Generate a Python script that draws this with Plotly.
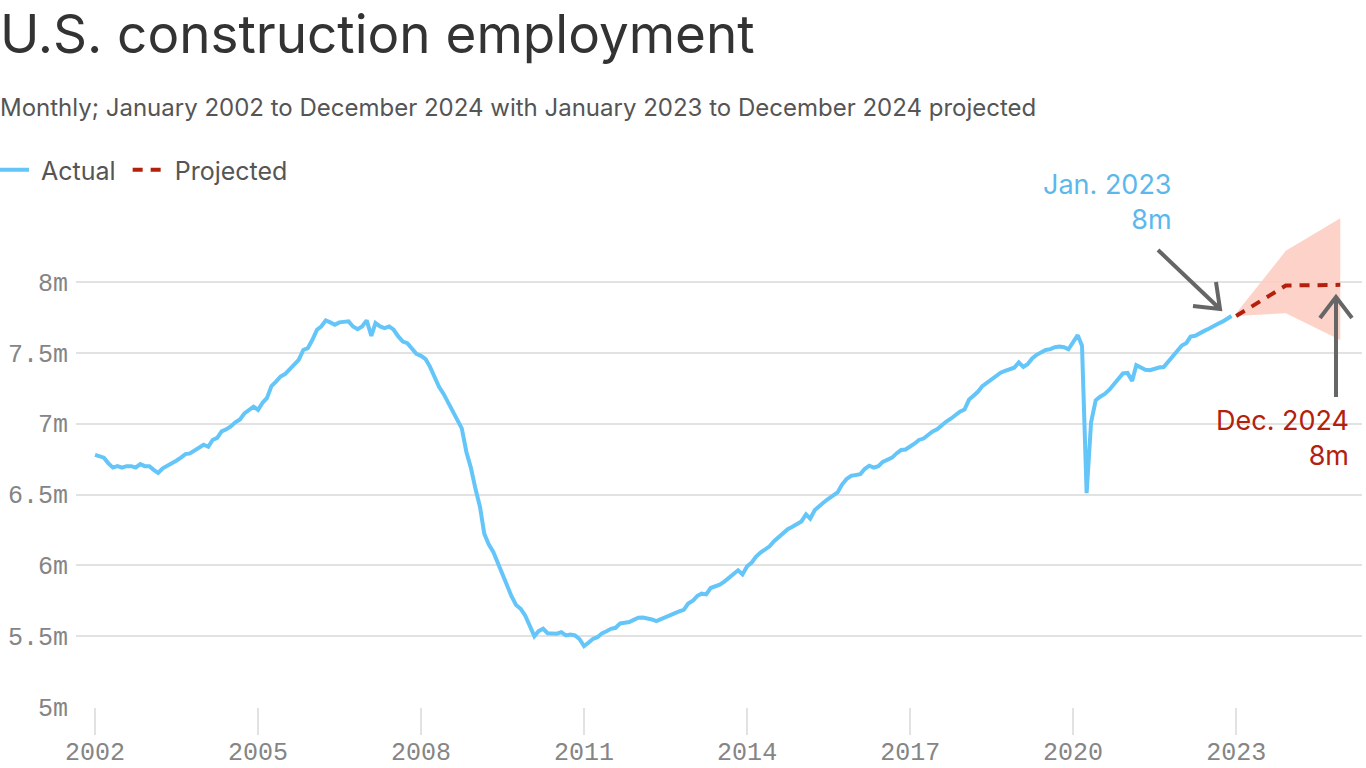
import pandas as pd
import plotly.graph_objects as go

# ---------------- data ----------------
actual_start = "2002-01-01"
actual_values = [
    # 2002
    6.78, 6.77, 6.76, 6.72, 6.69, 6.70, 6.69, 6.70, 6.70, 6.69, 6.715, 6.70,
    # 2003
    6.70, 6.672, 6.653, 6.685, 6.70, 6.72, 6.738, 6.76, 6.785, 6.79, 6.81, 6.83,
    # 2004
    6.851, 6.837, 6.885, 6.90, 6.945, 6.96, 6.98, 7.01, 7.03, 7.073, 7.095, 7.12,
    # 2005
    7.097, 7.149, 7.18, 7.265, 7.297, 7.333, 7.35, 7.387, 7.415, 7.45, 7.52, 7.533,
    # 2006
    7.592, 7.663, 7.686, 7.729, 7.715, 7.698, 7.715, 7.722, 7.722, 7.686, 7.667, 7.686,
    # 2007
    7.729, 7.62, 7.71, 7.686, 7.675, 7.686, 7.663, 7.616, 7.58, 7.568, 7.526, 7.493,
    # 2008
    7.479, 7.455, 7.403, 7.321, 7.26, 7.21, 7.15, 7.10, 7.04, 6.967, 6.80, 6.69,
    # 2009
    6.54, 6.41, 6.224, 6.146, 6.094, 6.01, 5.93, 5.85, 5.78, 5.72, 5.693, 5.646,
    # 2010
    5.568, 5.50, 5.535, 5.552, 5.521, 5.52, 5.517, 5.528, 5.505, 5.512, 5.505, 5.48,
    # 2011
    5.43, 5.455, 5.48, 5.493, 5.52, 5.535, 5.552, 5.559, 5.59, 5.595, 5.60, 5.615,
    # 2012
    5.63, 5.632, 5.628, 5.618, 5.606, 5.62, 5.639, 5.65, 5.663, 5.675, 5.686, 5.73,
    # 2013
    5.75, 5.785, 5.80, 5.795, 5.84, 5.852, 5.863, 5.885, 5.91, 5.94, 5.965, 5.936,
    # 2014
    5.993, 6.02, 6.06, 6.09, 6.115, 6.134, 6.17, 6.20, 6.235, 6.255, 6.272, 6.29,
    # 2015
    6.31, 6.36, 6.33, 6.39, 6.42, 6.445, 6.47, 6.49, 6.515, 6.57, 6.61, 6.632,
    # 2016
    6.635, 6.644, 6.68, 6.703, 6.69, 6.70, 6.73, 6.743, 6.76, 6.79, 6.814, 6.818,
    # 2017
    6.835, 6.86, 6.885, 6.895, 6.92, 6.945, 6.96, 6.99, 7.015, 7.035, 7.065, 7.085,
    # 2018
    7.10, 7.17, 7.195, 7.225, 7.265, 7.29, 7.31, 7.335, 7.36, 7.372, 7.38, 7.395,
    # 2019
    7.432, 7.40, 7.42, 7.46, 7.486, 7.505, 7.52, 7.526, 7.54, 7.545, 7.54, 7.525,
    # 2020
    7.57, 7.625, 7.55, 6.51, 7.01, 7.165, 7.19, 7.21, 7.24, 7.28, 7.31, 7.355,
    # 2021
    7.358, 7.302, 7.413, 7.396, 7.38, 7.377, 7.39, 7.396, 7.40, 7.44, 7.48, 7.52,
    # 2022
    7.552, 7.57, 7.615, 7.62, 7.64, 7.655, 7.67, 7.69, 7.705, 7.72, 7.74, 7.76,
]
actual_dates = pd.date_range(actual_start, periods=len(actual_values), freq="MS")

proj_dates = ["2023-01-01", "2023-12-01", "2024-12-01"]
proj_values = [7.76, 7.975, 7.98]
proj_upper = [7.78, 8.22, 8.45]
proj_lower = [7.76, 7.78, 7.59]

x_tick_years = [2002, 2005, 2008, 2011, 2014, 2017, 2020, 2023]
y_tick_vals = [5, 5.5, 6, 6.5, 7, 7.5, 8]
y_tick_text = ["5m", "5.5m", "6m", "6.5m", "7m", "7.5m", "8m"]

# ---------------- styles ----------------
BLUE = "#64c5f9"
BLUE_TXT = "#5ab8ec"
RED = "#b3200c"
BAND = "rgba(253,205,194,0.9)"
GRID = "#e2e2e2"
ARROW = "#666666"
TICKFONT = dict(family="Liberation Mono, DejaVu Sans Mono, monospace", size=25, color="#858585")
SANS = "Inter, Lato, Open Sans, sans-serif"

W, H = 1366, 768
ML, MR, MT, MB = 76, 4, 197, 61
PW, PH = W - ML - MR, H - MT - MB


def px_x(p):
    return (p - ML) / PW


def px_y(p):
    return (H - MB - p) / PH


def path_px(points_list):
    segs = []
    for pts in points_list:
        segs.append("M " + " L ".join(f"{px_x(a):.5f},{px_y(b):.5f}" for a, b in pts))
    return " ".join(segs)


fig = go.Figure()

# projection band
fig.add_trace(go.Scatter(
    x=proj_dates + proj_dates[::-1],
    y=proj_upper + proj_lower[::-1],
    fill="toself", fillcolor=BAND, line=dict(width=0),
    mode="lines", showlegend=False, hoverinfo="skip",
))

fig.add_trace(go.Scatter(
    x=actual_dates, y=actual_values, mode="lines", name="\u00a0Actual\u00a0",
    line=dict(color=BLUE, width=4),
))

fig.add_trace(go.Scatter(
    x=proj_dates, y=proj_values, mode="lines", name="\u00a0Projected",
    line=dict(color=RED, width=4, dash="10px,8px"),
))

annotations = [
    dict(text="U.S. construction employment", xref="paper", yref="paper",
         x=px_x(-2), y=px_y(34), xanchor="left", yanchor="middle", showarrow=False,
         font=dict(family=SANS, size=53, color="#333333")),
    dict(text="Monthly; January 2002 to December 2024 with January 2023 to December 2024 projected",
         xref="paper", yref="paper", x=px_x(-2), y=px_y(108), xanchor="left", yanchor="middle",
         showarrow=False, font=dict(family=SANS, size=24, color="#555555")),
    dict(text="Jan. 2023<br>8m", xref="paper", yref="paper", x=px_x(1174), y=px_y(202),
         xanchor="right", yanchor="middle", align="right", showarrow=False,
         font=dict(family=SANS, size=27, color=BLUE_TXT)),
    dict(text="Dec. 2024<br>8m", xref="paper", yref="paper", x=px_x(1351), y=px_y(438),
         xanchor="right", yanchor="middle", align="right", showarrow=False,
         font=dict(family=SANS, size=27, color=RED)),
]

# arrow shapes (annotation pointers)
arrow1 = path_px([[(1158, 250), (1220, 309)], [(1193, 306), (1220, 309), (1216, 282)]])
arrow2 = path_px([[(1336, 397), (1336, 297)], [(1320, 318), (1336, 297), (1352, 318)]])
shapes = [
    dict(type="path", xref="paper", yref="paper", path=arrow1,
         line=dict(color=ARROW, width=4)),
    dict(type="path", xref="paper", yref="paper", path=arrow2,
         line=dict(color=ARROW, width=4)),
]

fig.update_layout(
    width=W, height=H,
    margin=dict(l=ML, r=MR, t=MT, b=MB, pad=0, autoexpand=False),
    paper_bgcolor="white", plot_bgcolor="white",
    showlegend=True,
    legend=dict(orientation="h", x=px_x(-6), y=px_y(170), xanchor="left", yanchor="middle",
                font=dict(family=SANS, size=25, color="#555555"), bgcolor="rgba(0,0,0,0)"),
    annotations=annotations,
    shapes=shapes,
    xaxis=dict(
        type="date",
        range=["2001-08-26", "2025-04-26"],
        tickvals=[f"{y}-01-01" for y in x_tick_years],
        ticktext=[str(y) for y in x_tick_years],
        ticks="outside", ticklen=27, tickwidth=2, tickcolor=GRID,
        showgrid=False, zeroline=False, showline=False,
        tickfont=TICKFONT, automargin=False, ticklabelstandoff=-5,
    ),
    yaxis=dict(
        range=[5, 8.6],
        tickvals=y_tick_vals, ticktext=y_tick_text,
        showgrid=True, gridcolor=GRID, gridwidth=2,
        zeroline=False, showline=False, ticks="",
        tickfont=TICKFONT, ticklabelstandoff=7, automargin=False,
    ),
)

fig.write_html("out.html")
